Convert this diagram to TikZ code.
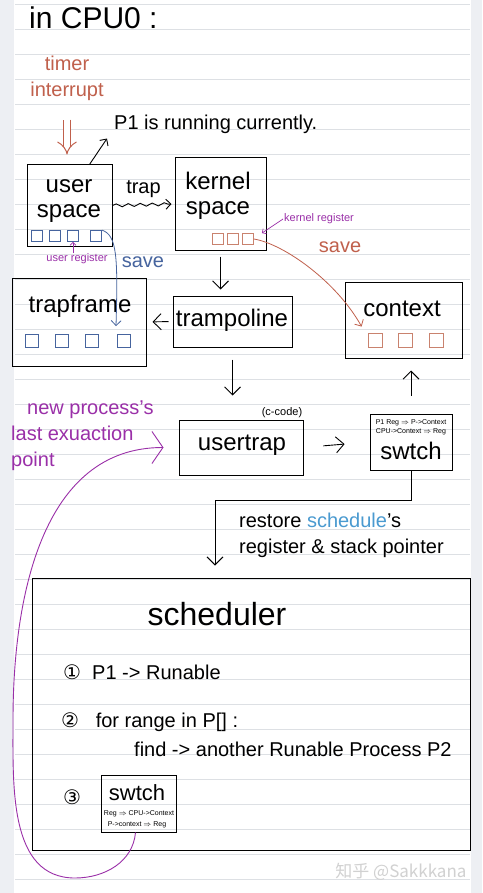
\documentclass[tikz,border=0pt]{standalone}
\usepackage{fontspec}
\setmainfont{Liberation Sans}
\newfontfamily\symfont{DejaVu Sans}
\newfontfamily\cjkfont{Noto Sans CJK SC}
\usepackage{tikz}
\usetikzlibrary{positioning,arrows.meta,decorations.pathmorphing}
\definecolor{penbrown}{HTML}{C0604C}
\definecolor{regbrown}{HTML}{C9826E}
\definecolor{penpurple}{HTML}{9A2FA8}
\definecolor{penblue}{HTML}{46649E}
\definecolor{skyblue}{HTML}{4A9AD0}
\definecolor{ruleline}{HTML}{DDE0E4}
\definecolor{margin}{HTML}{EDEFF3}
\tikzset{
  box/.style={draw=black, line width=1pt, inner sep=0pt},
  reg/.style={draw, line width=0.8pt, minimum size=11pt, inner sep=0pt},
  ureg/.style={reg, draw=penblue},
  kreg/.style={reg, draw=regbrown},
  txt/.style={font=\fontsize{24}{25}\selectfont, inner sep=1pt},
  big/.style={font=\fontsize{30}{32}\selectfont, inner sep=1pt},
  say/.style={font=\fontsize{20}{26}\selectfont, inner sep=1pt},
  note/.style={font=\fontsize{11}{12}\selectfont, inner sep=1pt},
  mini/.style={font=\fontsize{7}{8}\selectfont, inner sep=0pt},
  arr/.style={draw=black, line width=0.9pt, -{Straight Barb[length=8pt,width=16pt]}},
  thinarr/.style={line width=0.7pt, -{Straight Barb[length=3pt,width=6pt]}}
}

\begin{document}
\begin{tikzpicture}[x=1pt, y=-1pt]
  % paper
  \useasboundingbox (0,0) rectangle (482,893);
  \fill[margin] (0,0) rectangle (482,893);
  \fill[white] (14,0) rectangle (471,893);
  \foreach \k in {0,...,35}
    \draw[ruleline, line width=0.8pt] (15,4+25*\k) -- (470,4+25*\k);

  % top notes
  \node[big, anchor=west] (title) at (28,18) {in CPU0 :};
  \node[say, penbrown, align=center] (timer) at (67,78) {timer\\interrupt};
  \node[say, anchor=west] (running) at (113,124) {P1 is running currently.};

  % user space
  \node[box, minimum width=85pt, minimum height=81pt] (usr) at (69.5,205.5) {};
  \node[txt, align=center] (usrtxt) at (69,201) {user\\space};
  \node[ureg] (usq1) at (37,236) {};
  \node[ureg] (usq2) at (55,236) {};
  \node[ureg] (usq3) at (73,236) {};
  \node[ureg] (usq4) at (96,236) {};
  \node[note, penpurple] (ureglbl) at (77,259) {user register};

  % kernel space
  \node[box, minimum width=91pt, minimum height=92pt] (krn) at (220.5,204) {};
  \node[txt, align=center] (krntxt) at (218,196) {kernel\\space};
  \node[kreg] (ksq1) at (218,239) {};
  \node[kreg] (ksq2) at (233,239) {};
  \node[kreg] (ksq3) at (248,239) {};
  \node[note, penpurple, anchor=west] (kreglbl) at (283,219) {kernel register};

  % trapframe, trampoline, context
  \node[box, minimum width=134pt, minimum height=88pt] (tf) at (79,322) {};
  \node[txt] (tftxt) at (80,306) {trapframe};
  \node[reg, draw=penblue, minimum size=13pt] (tfsq1) at (32,341) {};
  \node[reg, draw=penblue, minimum size=13pt] (tfsq2) at (62,341) {};
  \node[reg, draw=penblue, minimum size=13pt] (tfsq3) at (92,341) {};
  \node[reg, draw=penblue, minimum size=13pt] (tfsq4) at (124,341) {};
  \node[box, minimum width=119pt, minimum height=51pt] (tramp) at (232.5,321.5) {};
  \node[txt] (tramptxt) at (232,320) {trampoline};
  \node[box, minimum width=117pt, minimum height=76pt] (ctx) at (403.5,320) {};
  \node[txt] (ctxtxt) at (402,309) {context};
  \node[kreg, minimum size=14pt] (csq1) at (375,340) {};
  \node[kreg, minimum size=14pt] (csq2) at (405,340) {};
  \node[kreg, minimum size=14pt] (csq3) at (436,340) {};
  \node[say, penblue] (saveu) at (143,262) {save};
  \node[say, penbrown] (savek) at (340,247) {save};

  % usertrap and swtch
  \node[box, minimum width=124pt, minimum height=55pt] (utrap) at (241,447.5) {};
  \node[txt] (utraptxt) at (242,445) {usertrap};
  \node[note] (ccode) at (282,413) {(c-code)};
  \node[box, minimum width=82pt, minimum height=56pt] (sw1) at (411,442) {};
  \node[mini] (sw1a) at (411,423) {P1 Reg $\Rightarrow$ P->Context};
  \node[mini] (sw1b) at (411,432) {CPU->Context $\Rightarrow$ Reg};
  \node[txt] (sw1txt) at (411,451) {swtch};
  \node[say, penpurple, align=left, anchor=north west] (newproc) at (10,400)
    {\hspace{16pt}new process's\\last exuaction\\point};
  \node[say, align=left, anchor=west] (restore) at (238,535)
    {restore \textcolor{skyblue}{schedule}'s\\register \& stack pointer};

  % scheduler
  \node[box, minimum width=438pt, minimum height=272pt] (sched) at (251,714) {};
  \node[font=\fontsize{32}{34}\selectfont] (schedtxt) at (217,614) {scheduler};
  \node[say, anchor=west] (step1) at (62,672) {{\symfont ①}\ \ P1 -> Runable};
  \node[say, anchor=west] (step2) at (60,722) {{\symfont ②}\ \ \ for range in P[] :};
  \node[say, anchor=west] (step2b) at (133,749) {find -> another Runable Process P2};
  \node[say] (step3) at (72,797) {\symfont ③};
  \node[box, minimum width=75pt, minimum height=57pt] (sw2) at (138.5,803.5) {};
  \node[font=\fontsize{22}{23}\selectfont, inner sep=1pt] (sw2txt) at (137,793) {swtch};
  \node[mini] (sw2a) at (139,814) {Reg $\Rightarrow$ CPU->Context};
  \node[mini] (sw2b) at (137,825) {P->context $\Rightarrow$ Reg};
  \node[font=\cjkfont\fontsize{17}{17}\selectfont, text=black!18, anchor=east] (mark) at (470,872) {知乎 @Sakkkana};

  % connectors
  \draw[penbrown, line width=1pt, double, double distance=6pt, -{Implies[length=6pt]}, shorten <=18pt, shorten >=10pt]
    (timer.south) -- (timer.south |- usr.north);
  \draw[arr, -{Straight Barb[length=5pt,width=10pt]}] ([xshift=20pt]usr.north) -- ([xshift=-6pt,yshift=-4pt]running.south west);
  \draw[arr, -{Straight Barb[length=5pt,width=10pt]}, decorate,
    decoration={snake, amplitude=1.5pt, segment length=12pt, post length=6pt}, shorten <=3pt, shorten >=3pt]
    (usr.east) -- (krn.west) node[midway, above=6pt, say] (traplbl) {trap};
  \draw[arr, shorten <=6pt, shorten >=6pt] (krn.south) -- (krn.south |- tramp.north);
  \draw[arr, shorten <=4pt, shorten >=6pt] (tramp.west) -- (tf.east);
  \draw[arr, shorten <=12pt, shorten >=24pt] (tramp.south) -- (tramp.south |- utrap.north);
  \draw[arr, shorten <=20pt, shorten >=25pt] (utrap.east) -- (sw1.west);
  \draw[arr, shorten <=18pt, shorten >=12pt] (sw1.north) -- (sw1.north |- ctx.south);
  \coordinate (rbend) at (215,500);
  \draw[arr, shorten >=12pt] (sw1.south) |- (rbend) -- (rbend |- sched.north);

  \draw[penblue, thinarr, line width=0.8pt, -{Straight Barb[length=5pt,width=10pt]}]
    (usq4.north east) .. controls +(15,5) and +(2,-70) .. ([xshift=-8pt,yshift=8pt]tfsq4.north);
  \draw[penbrown, thinarr, line width=0.8pt, -{Straight Barb[length=5pt,width=10pt]}]
    (ksq3.east) .. controls +(30,5) and +(-25,-45) .. ([xshift=-6pt,yshift=6pt]csq1.north west);
  \draw[penpurple, thinarr] (ureglbl.north -| usq3.south) -- (usq3.south);
  \draw[penpurple, thinarr] (kreglbl.west) -- ([xshift=8pt]ksq3.north east);

  \coordinate (pbot) at (75,878);
  \coordinate (pleft) at (13,720);
  \draw[penpurple, line width=0.9pt, -{Straight Barb[length=11pt,width=32pt]}]
    ([xshift=-3pt]sw2.south) to[out=-95, in=0] (pbot) to[out=180, in=-90] (pleft)
    to[out=90, in=180] ([xshift=-15pt]utrap.west);
\end{tikzpicture}
\end{document}
